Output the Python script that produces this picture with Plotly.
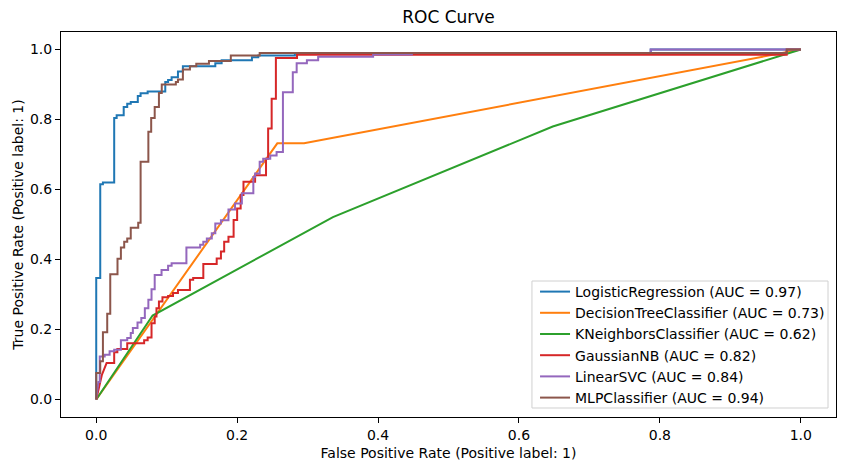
import plotly.graph_objects as go

# ---- data ----
names = [
    "LogisticRegression (AUC = 0.97)",
    "DecisionTreeClassifier (AUC = 0.73)",
    "KNeighborsClassifier (AUC = 0.62)",
    "GaussianNB (AUC = 0.82)",
    "LinearSVC (AUC = 0.84)",
    "MLPClassifier (AUC = 0.94)",
]

lr_fpr = [0, 0, 0.0057, 0.0057, 0.0095, 0.0095, 0.0255, 0.0255, 0.029, 0.029, 0.039, 0.039,
          0.044, 0.044, 0.049, 0.049, 0.059, 0.059, 0.063, 0.063, 0.073, 0.073, 0.098, 0.098,
          0.102, 0.102, 0.107, 0.107, 0.116, 0.116, 0.123, 0.123, 0.169, 0.169, 0.178, 0.178,
          0.221, 0.221, 0.23, 0.23, 0.282, 0.282, 0.787, 0.787, 1.0]
lr_tpr = [0, 0.347, 0.347, 0.615, 0.615, 0.62, 0.62, 0.804, 0.804, 0.812, 0.812, 0.836,
          0.836, 0.845, 0.845, 0.85, 0.85, 0.867, 0.867, 0.875, 0.875, 0.88, 0.88, 0.907,
          0.907, 0.913, 0.913, 0.921, 0.921, 0.937, 0.937, 0.952, 0.952, 0.961, 0.961, 0.969,
          0.969, 0.978, 0.978, 0.983, 0.983, 0.99, 0.99, 1.0, 1.0]

dt_fpr = [0, 0.257, 0.295, 1.0]
dt_tpr = [0, 0.732, 0.732, 1.0]

knn_fpr = [0, 0.08, 0.336, 0.648, 1.0]
knn_tpr = [0, 0.24, 0.521, 0.78, 1.0]

gnb_fpr = [0, 0.008, 0.0147, 0.0255, 0.0255, 0.030, 0.030, 0.044, 0.044, 0.068, 0.068, 0.073,
           0.073, 0.0785, 0.0785, 0.083, 0.083, 0.0855, 0.0855, 0.089, 0.089, 0.094, 0.094,
           0.102, 0.102, 0.109, 0.109, 0.116, 0.116, 0.133, 0.133, 0.1376, 0.1376, 0.152,
           0.152, 0.171, 0.171, 0.177, 0.177, 0.1816, 0.1816, 0.1877, 0.1877, 0.195, 0.195,
           0.2, 0.2, 0.205, 0.205, 0.209, 0.209, 0.2255, 0.2255, 0.241, 0.241, 0.244, 0.244,
           0.249, 0.249, 0.255, 0.255, 0.285, 0.285, 0.98, 0.98, 1.0]
gnb_tpr = [0, 0.07, 0.104, 0.104, 0.135, 0.135, 0.144, 0.144, 0.161, 0.161, 0.169, 0.169,
           0.177, 0.177, 0.218, 0.218, 0.237, 0.237, 0.261, 0.261, 0.28, 0.28, 0.292,
           0.292, 0.296, 0.296, 0.304, 0.304, 0.313, 0.313, 0.342, 0.342, 0.347, 0.347,
           0.387, 0.387, 0.403, 0.403, 0.423, 0.423, 0.451, 0.451, 0.465, 0.465, 0.513,
           0.513, 0.546, 0.546, 0.584, 0.584, 0.622, 0.622, 0.641, 0.641, 0.688, 0.688, 0.774,
           0.774, 0.859, 0.859, 0.976, 0.976, 0.985, 0.985, 1.0, 1.0]

svc_fpr = [0, 0.003, 0.005, 0.005, 0.012, 0.012, 0.019, 0.019, 0.0255, 0.0255, 0.035, 0.035,
           0.044, 0.044, 0.049, 0.049, 0.052, 0.052, 0.0586, 0.0586, 0.064, 0.064, 0.069,
           0.069, 0.074, 0.074, 0.0785, 0.0785, 0.083, 0.083, 0.0927, 0.0927, 0.102, 0.102,
           0.107, 0.107, 0.128, 0.128, 0.1475, 0.1475, 0.152, 0.152, 0.157, 0.157, 0.164,
           0.164, 0.169, 0.169, 0.177, 0.177, 0.1877, 0.1877, 0.197, 0.197, 0.2067, 0.2067,
           0.223, 0.223, 0.2255, 0.2255, 0.232, 0.232, 0.237, 0.237, 0.247, 0.247, 0.256,
           0.256, 0.265, 0.265, 0.279, 0.279, 0.2845, 0.2845, 0.299, 0.299, 0.315, 0.315,
           0.393, 0.393, 0.448, 0.448, 0.787, 0.787, 1.0]
svc_tpr = [0, 0.05, 0.05, 0.123, 0.123, 0.128, 0.128, 0.138, 0.138, 0.142, 0.142, 0.169,
           0.169, 0.176, 0.176, 0.19, 0.19, 0.204, 0.204, 0.22, 0.22, 0.233, 0.233,
           0.261, 0.261, 0.285, 0.285, 0.315, 0.315, 0.356, 0.356, 0.37, 0.37, 0.382,
           0.382, 0.389, 0.389, 0.434, 0.434, 0.442, 0.442, 0.451, 0.451, 0.46, 0.46,
           0.475, 0.475, 0.503, 0.503, 0.512, 0.512, 0.543, 0.543, 0.56, 0.56, 0.589,
           0.589, 0.636, 0.636, 0.646, 0.646, 0.679, 0.679, 0.688, 0.688, 0.697, 0.697,
           0.707, 0.707, 0.878, 0.878, 0.935, 0.935, 0.961, 0.961, 0.969, 0.969, 0.979,
           0.979, 0.986, 0.986, 0.99, 0.99, 1.0, 1.0]

mlp_fpr = [0, 0, 0.0057, 0.0057, 0.0095, 0.0095, 0.0156, 0.0156, 0.0199, 0.0199, 0.0302, 0.0302,
           0.035, 0.035, 0.0397, 0.0397, 0.044, 0.044, 0.049, 0.049, 0.0596, 0.0596, 0.063,
           0.063, 0.074, 0.074, 0.078, 0.078, 0.083, 0.083, 0.089, 0.089, 0.093, 0.093, 0.113,
           0.113, 0.116, 0.116, 0.123, 0.123, 0.133, 0.133, 0.142, 0.142, 0.16, 0.16, 0.191,
           0.191, 0.232, 0.232, 0.98, 0.98, 1.0]
mlp_tpr = [0, 0.076, 0.076, 0.109, 0.109, 0.192, 0.192, 0.245, 0.245, 0.358, 0.358, 0.402,
           0.402, 0.434, 0.434, 0.451, 0.451, 0.46, 0.46, 0.491, 0.491, 0.505, 0.505,
           0.679, 0.679, 0.765, 0.765, 0.804, 0.804, 0.836, 0.836, 0.876, 0.876, 0.9, 0.9,
           0.907, 0.907, 0.914, 0.914, 0.943, 0.943, 0.952, 0.952, 0.959, 0.959, 0.967, 0.967,
           0.983, 0.983, 0.99, 0.99, 1.0, 1.0]

series_fpr = [lr_fpr, dt_fpr, knn_fpr, gnb_fpr, svc_fpr, mlp_fpr]
series_tpr = [lr_tpr, dt_tpr, knn_tpr, gnb_tpr, svc_tpr, mlp_tpr]
colors = ["#1f77b4", "#ff7f0e", "#2ca02c", "#d62728", "#9467bd", "#8c564b"]

tick_vals = [0.0, 0.2, 0.4, 0.6, 0.8, 1.0]
tick_text = ["0.0", "0.2", "0.4", "0.6", "0.8", "1.0"]

# ---- figure ----
fig = go.Figure()
for name, fx, ty, c in zip(names, series_fpr, series_tpr, colors):
    fig.add_trace(go.Scatter(x=fx, y=ty, mode="lines", name=name,
                             line=dict(color=c, width=2)))

font_family = "DejaVu Sans"
axis_common = dict(
    showline=True, linecolor="black", linewidth=1, mirror=True,
    ticks="outside", ticklen=5, tickwidth=1, tickcolor="black",
    showgrid=False, zeroline=False, automargin=False,
    tickvals=tick_vals, ticktext=tick_text,
    tickfont=dict(size=14, color="black", family=font_family),
)

# legend frame (matplotlib-style box, drawn as a shape so padding can be tight)
fig.add_shape(type="rect", xref="paper", yref="paper",
              x0=0.6077, x1=0.9897, y0=0.0234, y1=0.3532,
              fillcolor="rgba(255,255,255,0.8)", line=dict(color="#d0d0d0", width=1),
              layer="above")

# the page adds ~8px body margin, so the figure is offset to compensate
fig.update_layout(
    width=846, height=470,
    margin=dict(l=53, r=18, t=24, b=61, autoexpand=False),
    paper_bgcolor="white", plot_bgcolor="white",
    font=dict(family=font_family, size=14, color="black"),
    title=dict(text="ROC Curve", x=0.5, xref="paper", xanchor="center",
               y=1 - 9 / 470, yref="container", yanchor="middle",
               font=dict(size=17, color="black", family=font_family)),
    xaxis=dict(range=[-0.05, 1.05],
               title=dict(text="False Positive Rate (Positive label: 1)",
                          font=dict(size=14, color="black"), standoff=6),
               **axis_common),
    yaxis=dict(range=[-0.05, 1.05],
               title=dict(text="True Positive Rate (Positive label: 1)",
                          font=dict(size=14, color="black"), standoff=3),
               **axis_common),
    legend=dict(x=0.9923, y=0.0078, xanchor="right", yanchor="bottom",
                bgcolor="rgba(0,0,0,0)", borderwidth=0,
                font=dict(size=14, color="black", family=font_family),
                itemwidth=30, tracegroupgap=0),
    showlegend=True,
)

fig.write_html("out.html")
